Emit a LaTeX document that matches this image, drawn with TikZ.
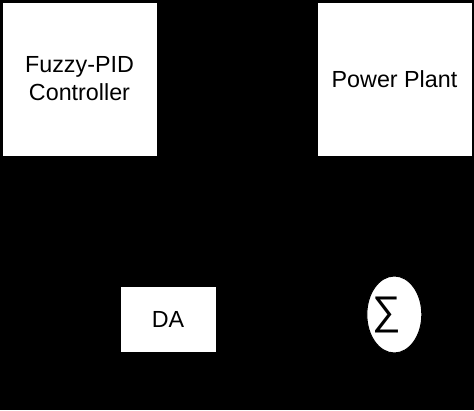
\documentclass[tikz,border=0pt]{standalone}
\usepackage{fontspec}
\setmainfont{Liberation Sans}
\usetikzlibrary{shapes.geometric}
\begin{document}
\begin{tikzpicture}[x=1pt,y=-1pt,
  blockbox/.style={draw=black,fill=white,line width=1pt,inner sep=0pt,
    font=\fontsize{23.3}{28}\selectfont,align=center,text=black},
  sumnode/.style={ellipse,draw=black,fill=white,line width=1pt,inner sep=0pt}]
\fill[black] (0,0) rectangle (474,410);
\useasboundingbox (0,0) rectangle (474,410);
\node[blockbox,minimum width=155pt,minimum height=154pt] (fpid) at (79.5,79) {Fuzzy-PID\\Controller};
\node[blockbox,minimum width=155pt,minimum height=154pt] (plant) at (394.5,79) {Power Plant};
\node[blockbox,minimum width=96pt,minimum height=66pt] (da) at (168,319) {DA};
\node[sumnode,minimum width=55pt,minimum height=77pt] (sum) at (394.3,314.5) {};
\node[font=\fontsize{40}{44}\selectfont,text=black,inner sep=0pt,anchor=center] (sigma) at (387,314.5) {∑};
\end{tikzpicture}
\end{document}
